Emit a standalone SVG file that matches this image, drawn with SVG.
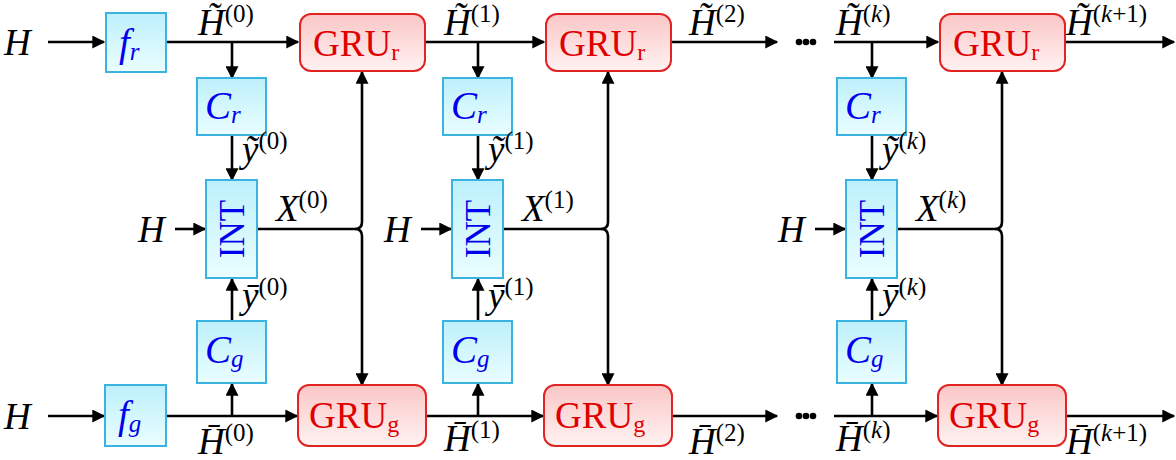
<svg xmlns="http://www.w3.org/2000/svg" width="1176" height="460" viewBox="0 0 1176 460">
<defs>
<linearGradient id="gc" x1="0" y1="0" x2="0" y2="1"><stop offset="0" stop-color="#bdf0fb"/><stop offset="1" stop-color="#eafeff"/></linearGradient>
<linearGradient id="gr" x1="0" y1="0" x2="0" y2="1"><stop offset="0" stop-color="#fbc6c6"/><stop offset="1" stop-color="#fff2f2"/></linearGradient>
<marker id="a" viewBox="0 0 10 10" refX="9" refY="5" markerWidth="6" markerHeight="5" markerUnits="strokeWidth" orient="auto"><path d="M0,0 L10,5 L0,10 z" fill="#000"/></marker>
</defs>
<style>
.c{fill:url(#gc);stroke:#3ab3e0;stroke-width:2}
.g{fill:url(#gr);stroke:#e02424;stroke-width:2}
.l{fill:none;stroke:#000;stroke-width:2.6}
.ar{marker-end:url(#a)}
.m{font-family:"Liberation Serif",serif;font-style:italic;font-size:37px;fill:#000}
.s{font-style:normal;font-size:25px}
.k{font-style:italic}
.b{font-family:"Liberation Serif",serif;font-style:italic;font-size:39px;fill:#0000ee}
.bs{font-size:25px}
.r{font-family:"Liberation Serif",serif;font-size:37px;fill:#e00000}
.rs{font-size:24px}
.i{font-family:"Liberation Serif",serif;font-size:35px;fill:#0000ee}
</style>
<g id="connectors">
<path class="l ar" d="M48,42 H104"/><path class="l ar" d="M48,416 H104"/>
<path class="l ar" d="M166,42 H298"/><path class="l ar" d="M166,416 H297"/>
<path class="l ar" d="M425,42 H544"/><path class="l ar" d="M426,416 H543"/>
<path class="l ar" d="M671,42 H777"/><path class="l ar" d="M672,416 H777"/>
<path class="l ar" d="M834,42 H938"/><path class="l ar" d="M834,416 H937"/>
<path class="l ar" d="M1063,42 H1174"/><path class="l ar" d="M1066,416 H1174"/>
<g id="col0">
<path class="l ar" d="M232,42 V78"/><path class="l ar" d="M232,135 V180"/>
<path class="l ar" d="M175,229 H205"/><path class="l ar" d="M232,321 V279"/>
<path class="l ar" d="M232,416 V384"/>
<path class="l" d="M257,229 H355 Q362,229 362,222"/><path class="l ar" d="M362,222 V72"/>
<path class="l" d="M355,229 Q362,229 362,236"/><path class="l ar" d="M362,236 V385"/>
</g>
<use href="#col0" transform="translate(246,0)"/>
<use href="#col0" transform="translate(640,0)"/>
<g fill="#000"><circle cx="799" cy="42" r="3.3"/><circle cx="806" cy="42" r="3.3"/><circle cx="813" cy="42" r="3.3"/>
<circle cx="799" cy="416" r="3.3"/><circle cx="806" cy="416" r="3.3"/><circle cx="813" cy="416" r="3.3"/></g>
</g>
<g id="fr"><rect class="c" x="106" y="13" width="60" height="59"/><text class="b" x="119" y="56">f<tspan class="bs" dy="4">r</tspan></text></g>
<g id="fg"><rect class="c" x="105" y="385" width="61" height="61"/><text class="b" x="118" y="428">f<tspan class="bs" dy="4">g</tspan></text></g>
<g id="col0nodes">
<g id="cr0"><rect class="c" x="197" y="78" width="69" height="57"/><text class="b" x="205" y="119">C<tspan class="bs" dy="4">r</tspan></text></g>
<g id="int0"><rect class="c" x="206" y="180" width="51" height="98"/><text class="i" transform="translate(244,229) rotate(-90)" text-anchor="middle">INT</text></g>
<g id="cg0"><rect class="c" x="197" y="321" width="69" height="62"/><text class="b" x="205" y="363">C<tspan class="bs" dy="4">g</tspan></text></g>
<g id="grur0"><rect class="g" x="300" y="14" width="125" height="57" rx="11"/><text class="r" x="313" y="56">GRU<tspan class="rs" dy="4">r</tspan></text></g>
<g id="grug0"><rect class="g" x="298" y="385" width="128" height="61" rx="11"/><text class="r" x="309" y="428">GRU<tspan class="rs" dy="4">g</tspan></text></g>
</g>
<use href="#col0nodes" transform="translate(246,0)"/>
<use href="#col0nodes" transform="translate(640,0)"/>
<g id="labels">
<text class="m" x="4" y="55">H</text><text class="m" x="4" y="429">H</text>
<text class="m" x="138" y="242">H</text><text class="m" x="384" y="242">H</text><text class="m" x="778" y="242">H</text>
<text class="m" x="198" y="35">H̃<tspan class="s" dy="-13">(0)</tspan></text>
<text class="m" x="444" y="35">H̃<tspan class="s" dy="-13">(1)</tspan></text>
<text class="m" x="689" y="35">H̃<tspan class="s" dy="-13">(2)</tspan></text>
<text class="m" x="836" y="35">H̃<tspan class="s" dy="-13">(<tspan class="k">k</tspan>)</tspan></text>
<text class="m" x="1066" y="35">H̃<tspan class="s" dy="-13">(<tspan class="k">k</tspan>+1)</tspan></text>
<text class="m" x="198" y="454">H̄<tspan class="s" dy="-13">(0)</tspan></text>
<text class="m" x="444" y="451">H̄<tspan class="s" dy="-13">(1)</tspan></text>
<text class="m" x="689" y="454">H̄<tspan class="s" dy="-13">(2)</tspan></text>
<text class="m" x="836" y="451">H̄<tspan class="s" dy="-13">(<tspan class="k">k</tspan>)</tspan></text>
<text class="m" x="1066" y="454">H̄<tspan class="s" dy="-13">(<tspan class="k">k</tspan>+1)</tspan></text>
<text class="m" x="242" y="162">ỹ<tspan class="s" dy="-13">(0)</tspan></text>
<text class="m" x="488" y="162">ỹ<tspan class="s" dy="-13">(1)</tspan></text>
<text class="m" x="882" y="162">ỹ<tspan class="s" dy="-13">(<tspan class="k">k</tspan>)</tspan></text>
<text class="m" x="242" y="308">ȳ<tspan class="s" dy="-13">(0)</tspan></text>
<text class="m" x="488" y="308">ȳ<tspan class="s" dy="-13">(1)</tspan></text>
<text class="m" x="882" y="308">ȳ<tspan class="s" dy="-13">(<tspan class="k">k</tspan>)</tspan></text>
<text class="m" x="276" y="221">X<tspan class="s" dy="-13">(0)</tspan></text>
<text class="m" x="522" y="221">X<tspan class="s" dy="-13">(1)</tspan></text>
<text class="m" x="916" y="221">X<tspan class="s" dy="-13">(<tspan class="k">k</tspan>)</tspan></text>
</g>
</svg>
